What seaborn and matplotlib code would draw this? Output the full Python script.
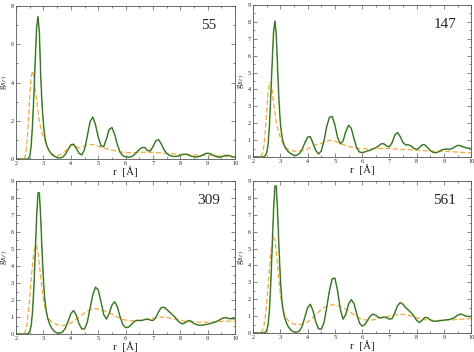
import numpy as np
import pandas as pd
import seaborn as sns
import matplotlib
matplotlib.use('Agg')
import matplotlib.pyplot as plt
from matplotlib.ticker import MultipleLocator

# r grid (finer sampling around the first peak)
R = np.round(np.r_[np.arange(2.0, 2.25, 0.1),
                   np.arange(2.3, 3.3001, 0.05),
                   np.arange(3.4, 10.0001, 0.1)], 2)

# cluster sizes
SIZES = ['55', '147', '309', '561']

# green/black curves
g55 = [0, 0, 0,
       0, 0, 0, 0.02, 0.15, 0.7, 1.8, 3.4, 5.2, 6.9, 7.45, 6.6, 4.3, 2.8, 1.8, 1.15, 0.8, 0.6, 0.45, 0.35, 0.25,
       0.15, 0.08, 0.06, 0.1, 0.25, 0.5, 0.75, 0.78, 0.55, 0.3,
       0.22, 0.5, 1.2, 1.95, 2.2, 1.8, 1.15, 0.7, 0.65, 1.05,
       1.55, 1.65, 1.3, 0.75, 0.35, 0.18, 0.12, 0.1, 0.12, 0.2,
       0.35, 0.5, 0.6, 0.6, 0.45, 0.42, 0.65, 0.95, 1.02, 0.8,
       0.5, 0.3, 0.2, 0.15, 0.14, 0.15, 0.2, 0.25, 0.26, 0.22,
       0.15, 0.12, 0.11, 0.14, 0.2, 0.28, 0.31, 0.28, 0.2, 0.14,
       0.1, 0.12, 0.17, 0.2, 0.18, 0.12, 0.1]
g147 = [0, 0, 0,
        0, 0, 0.02, 0.08, 0.25, 0.75, 1.9, 3.7, 5.6, 7.4, 8.05, 7.2, 5.2, 3.3, 2.0, 1.3, 0.9, 0.65, 0.5, 0.4, 0.3,
        0.18, 0.1, 0.1, 0.2, 0.45, 0.85, 1.18, 1.2, 0.8, 0.38,
        0.18, 0.35, 0.95, 1.8, 2.35, 2.4, 1.9, 1.15, 0.78, 0.95,
        1.5, 1.88, 1.7, 1.1, 0.55, 0.3, 0.26, 0.3, 0.36, 0.4,
        0.48, 0.55, 0.65, 0.78, 0.78, 0.65, 0.6, 0.85, 1.3, 1.45,
        1.2, 0.85, 0.72, 0.72, 0.65, 0.5, 0.45, 0.55, 0.72, 0.72,
        0.55, 0.38, 0.28, 0.25, 0.3, 0.4, 0.45, 0.47, 0.45, 0.5,
        0.6, 0.68, 0.68, 0.6, 0.55, 0.52, 0.5]
g309 = [0, 0, 0,
        0, 0, 0.01, 0.04, 0.15, 0.5, 1.3, 2.8, 4.8, 6.9, 8.3, 8.3, 6.8, 4.8, 3.1, 2.0, 1.35, 0.95, 0.7, 0.5, 0.35,
        0.15, 0.06, 0.05, 0.12, 0.35, 0.75, 1.2, 1.38, 1.1, 0.6,
        0.3, 0.3, 0.7, 1.5, 2.3, 2.75, 2.6, 1.9, 1.15, 0.88,
        1.2, 1.7, 1.9, 1.6, 1.0, 0.55, 0.38, 0.4, 0.55, 0.72,
        0.8, 0.8, 0.8, 0.85, 0.88, 0.82, 0.8, 0.95, 1.3, 1.55,
        1.58, 1.45, 1.3, 1.15, 1.0, 0.8, 0.65, 0.6, 0.7, 0.8,
        0.75, 0.62, 0.55, 0.52, 0.52, 0.55, 0.58, 0.62, 0.66, 0.72,
        0.8, 0.9, 0.96, 0.95, 0.9, 0.9, 0.9]
g561 = [0, 0, 0,
        0, 0, 0.01, 0.04, 0.15, 0.5, 1.4, 3.0, 5.1, 7.3, 8.7, 8.7, 7.1, 5.0, 3.2, 2.0, 1.35, 0.95, 0.7, 0.5, 0.35,
        0.15, 0.06, 0.05, 0.12, 0.4, 0.95, 1.5, 1.7, 1.3, 0.65,
        0.25, 0.22, 0.6, 1.5, 2.5, 3.2, 3.25, 2.5, 1.4, 0.82,
        1.1, 1.7, 1.97, 1.75, 1.15, 0.6, 0.4, 0.5, 0.75, 1.0,
        1.12, 1.05, 0.92, 0.9, 0.95, 0.9, 0.82, 0.85, 1.2, 1.62,
        1.8, 1.7, 1.5, 1.35, 1.2, 1.0, 0.75, 0.62, 0.75, 0.92,
        0.9, 0.78, 0.7, 0.7, 0.72, 0.74, 0.76, 0.78, 0.8, 0.85,
        0.92, 1.05, 1.12, 1.08, 1.0, 0.98, 0.98]

# orange dashed curves
o55 = [0, 0, 0,
       0.05, 0.25, 0.9, 2.0, 3.3, 4.3, 4.6, 4.3, 3.6, 3.1, 2.5, 2.0, 1.65, 1.35, 1.15, 0.98, 0.8, 0.62, 0.48, 0.36, 0.28,
       0.2, 0.18, 0.22, 0.3, 0.42, 0.58, 0.7, 0.72, 0.65, 0.58,
       0.6, 0.68, 0.74, 0.77, 0.76, 0.72, 0.67, 0.62, 0.58, 0.54,
       0.5, 0.47, 0.44, 0.41, 0.38, 0.36, 0.35, 0.34, 0.34, 0.34,
       0.35, 0.35, 0.36, 0.36, 0.36, 0.35, 0.35, 0.34, 0.33, 0.32,
       0.31, 0.3, 0.29, 0.28, 0.27, 0.26, 0.25, 0.24, 0.23, 0.22,
       0.22, 0.21, 0.21, 0.2, 0.2, 0.2, 0.2, 0.19, 0.18, 0.17,
       0.16, 0.15, 0.14, 0.13, 0.12, 0.11, 0.1]
o147 = [0, 0, 0,
        0.05, 0.2, 0.7, 1.6, 2.7, 3.8, 4.4, 4.4, 3.9, 3.2, 2.6, 2.1, 1.7, 1.4, 1.15, 0.95, 0.8, 0.67, 0.57, 0.5, 0.44,
        0.38, 0.35, 0.34, 0.35, 0.37, 0.4, 0.48, 0.58, 0.66, 0.72,
        0.76, 0.8, 0.86, 0.93, 0.98, 0.98, 0.94, 0.88, 0.8, 0.74,
        0.68, 0.62, 0.58, 0.55, 0.52, 0.5, 0.49, 0.48, 0.48, 0.48,
        0.49, 0.5, 0.5, 0.51, 0.51, 0.5, 0.5, 0.49, 0.48, 0.47,
        0.46, 0.45, 0.44, 0.43, 0.42, 0.41, 0.4, 0.39, 0.38, 0.37,
        0.36, 0.35, 0.35, 0.34, 0.34, 0.34, 0.34, 0.33, 0.32, 0.31,
        0.3, 0.29, 0.28, 0.27, 0.26, 0.25, 0.25]
o309 = [0, 0, 0,
        0.05, 0.2, 0.6, 1.3, 2.2, 3.2, 4.1, 4.8, 5.2, 5.2, 4.8, 4.1, 3.3, 2.6, 2.0, 1.6, 1.3, 1.08, 0.92, 0.8, 0.72,
        0.62, 0.55, 0.52, 0.5, 0.52, 0.57, 0.65, 0.75, 0.87, 1.0,
        1.12, 1.24, 1.34, 1.42, 1.47, 1.49, 1.47, 1.43, 1.38, 1.32,
        1.25, 1.17, 1.08, 1.0, 0.92, 0.86, 0.82, 0.79, 0.78, 0.78,
        0.79, 0.8, 0.82, 0.85, 0.88, 0.9, 0.93, 0.96, 0.98, 1.0,
        1.0, 0.98, 0.95, 0.92, 0.88, 0.84, 0.8, 0.77, 0.75, 0.73,
        0.71, 0.7, 0.7, 0.7, 0.7, 0.7, 0.7, 0.71, 0.72, 0.73,
        0.74, 0.75, 0.76, 0.76, 0.76, 0.75, 0.75]
o561 = [0, 0, 0,
        0.04, 0.15, 0.45, 1.0, 1.8, 2.8, 3.8, 4.7, 5.4, 5.7, 5.5, 4.9, 4.0, 3.1, 2.35, 1.8, 1.4, 1.12, 0.95, 0.82, 0.72,
        0.6, 0.53, 0.5, 0.5, 0.53, 0.58, 0.66, 0.78, 0.92, 1.08,
        1.24, 1.38, 1.5, 1.58, 1.64, 1.67, 1.66, 1.62, 1.56, 1.5,
        1.42, 1.32, 1.2, 1.08, 0.97, 0.88, 0.82, 0.78, 0.76, 0.76,
        0.78, 0.82, 0.86, 0.9, 0.94, 0.97, 1.0, 1.03, 1.06, 1.08,
        1.1, 1.1, 1.08, 1.05, 1.0, 0.95, 0.9, 0.86, 0.82, 0.79,
        0.77, 0.75, 0.74, 0.74, 0.74, 0.75, 0.75, 0.76, 0.77, 0.78,
        0.79, 0.8, 0.81, 0.82, 0.83, 0.84, 0.85]

GREEN = [g55, g147, g309, g561]
ORANGE = [o55, o147, o309, o561]
YMAX = [8, 9, 9, 9]
YSTEP = [2, 1, 1, 1]

sns.set_style('ticks')
plt.rcParams['font.family'] = ['Liberation Serif', 'DejaVu Serif']
plt.rcParams['mathtext.fontset'] = 'stix'

fig = plt.figure(figsize=(4.74, 3.52), dpi=100)
boxes = [[0.034, 0.548, 0.462, 0.435],
         [0.534, 0.554, 0.460, 0.432],
         [0.034, 0.051, 0.462, 0.435],
         [0.534, 0.054, 0.460, 0.432]]

for i, box in enumerate(boxes):
    ax = fig.add_axes(box)
    assert len(GREEN[i]) == len(R) and len(ORANGE[i]) == len(R)
    df = pd.DataFrame({'r': R, 'green': GREEN[i], 'orange': ORANGE[i]})
    sns.lineplot(data=df, x='r', y='orange', ax=ax, color='#f2a93b', lw=0.9,
                 linestyle=(0, (4, 2)))
    sns.lineplot(data=df, x='r', y='green', ax=ax, color='#6cb84a', lw=1.2)
    sns.lineplot(data=df, x='r', y='green', ax=ax, color='#2f3f2f', lw=0.45)

    ax.set_xlim(2, 10)
    ax.set_ylim(0, YMAX[i])
    ax.xaxis.set_major_locator(MultipleLocator(1))
    ax.xaxis.set_minor_locator(MultipleLocator(0.5))
    ax.yaxis.set_major_locator(MultipleLocator(YSTEP[i]))
    ax.yaxis.set_minor_locator(MultipleLocator(YSTEP[i] / 2))
    ax.tick_params(which='both', direction='in', top=True, right=True,
                   labelsize=4.5, pad=1.5, width=0.5, color='#555555')
    ax.tick_params(which='major', length=3)
    ax.tick_params(which='minor', length=1.5)
    for s in ax.spines.values():
        s.set_linewidth(0.6)
        s.set_color('#555555')

    ax.set_xlabel('r  [Å]', fontsize=8, labelpad=0)
    ax.set_ylabel(r'g$_{I(r)}$', fontsize=6.5)
    ax.yaxis.set_label_coords(-0.028, 0.5)
    ax.text(0.88, 0.87, SIZES[i], transform=ax.transAxes, fontsize=11,
            ha='center', va='center')

fig.savefig('out.png', dpi=100)
